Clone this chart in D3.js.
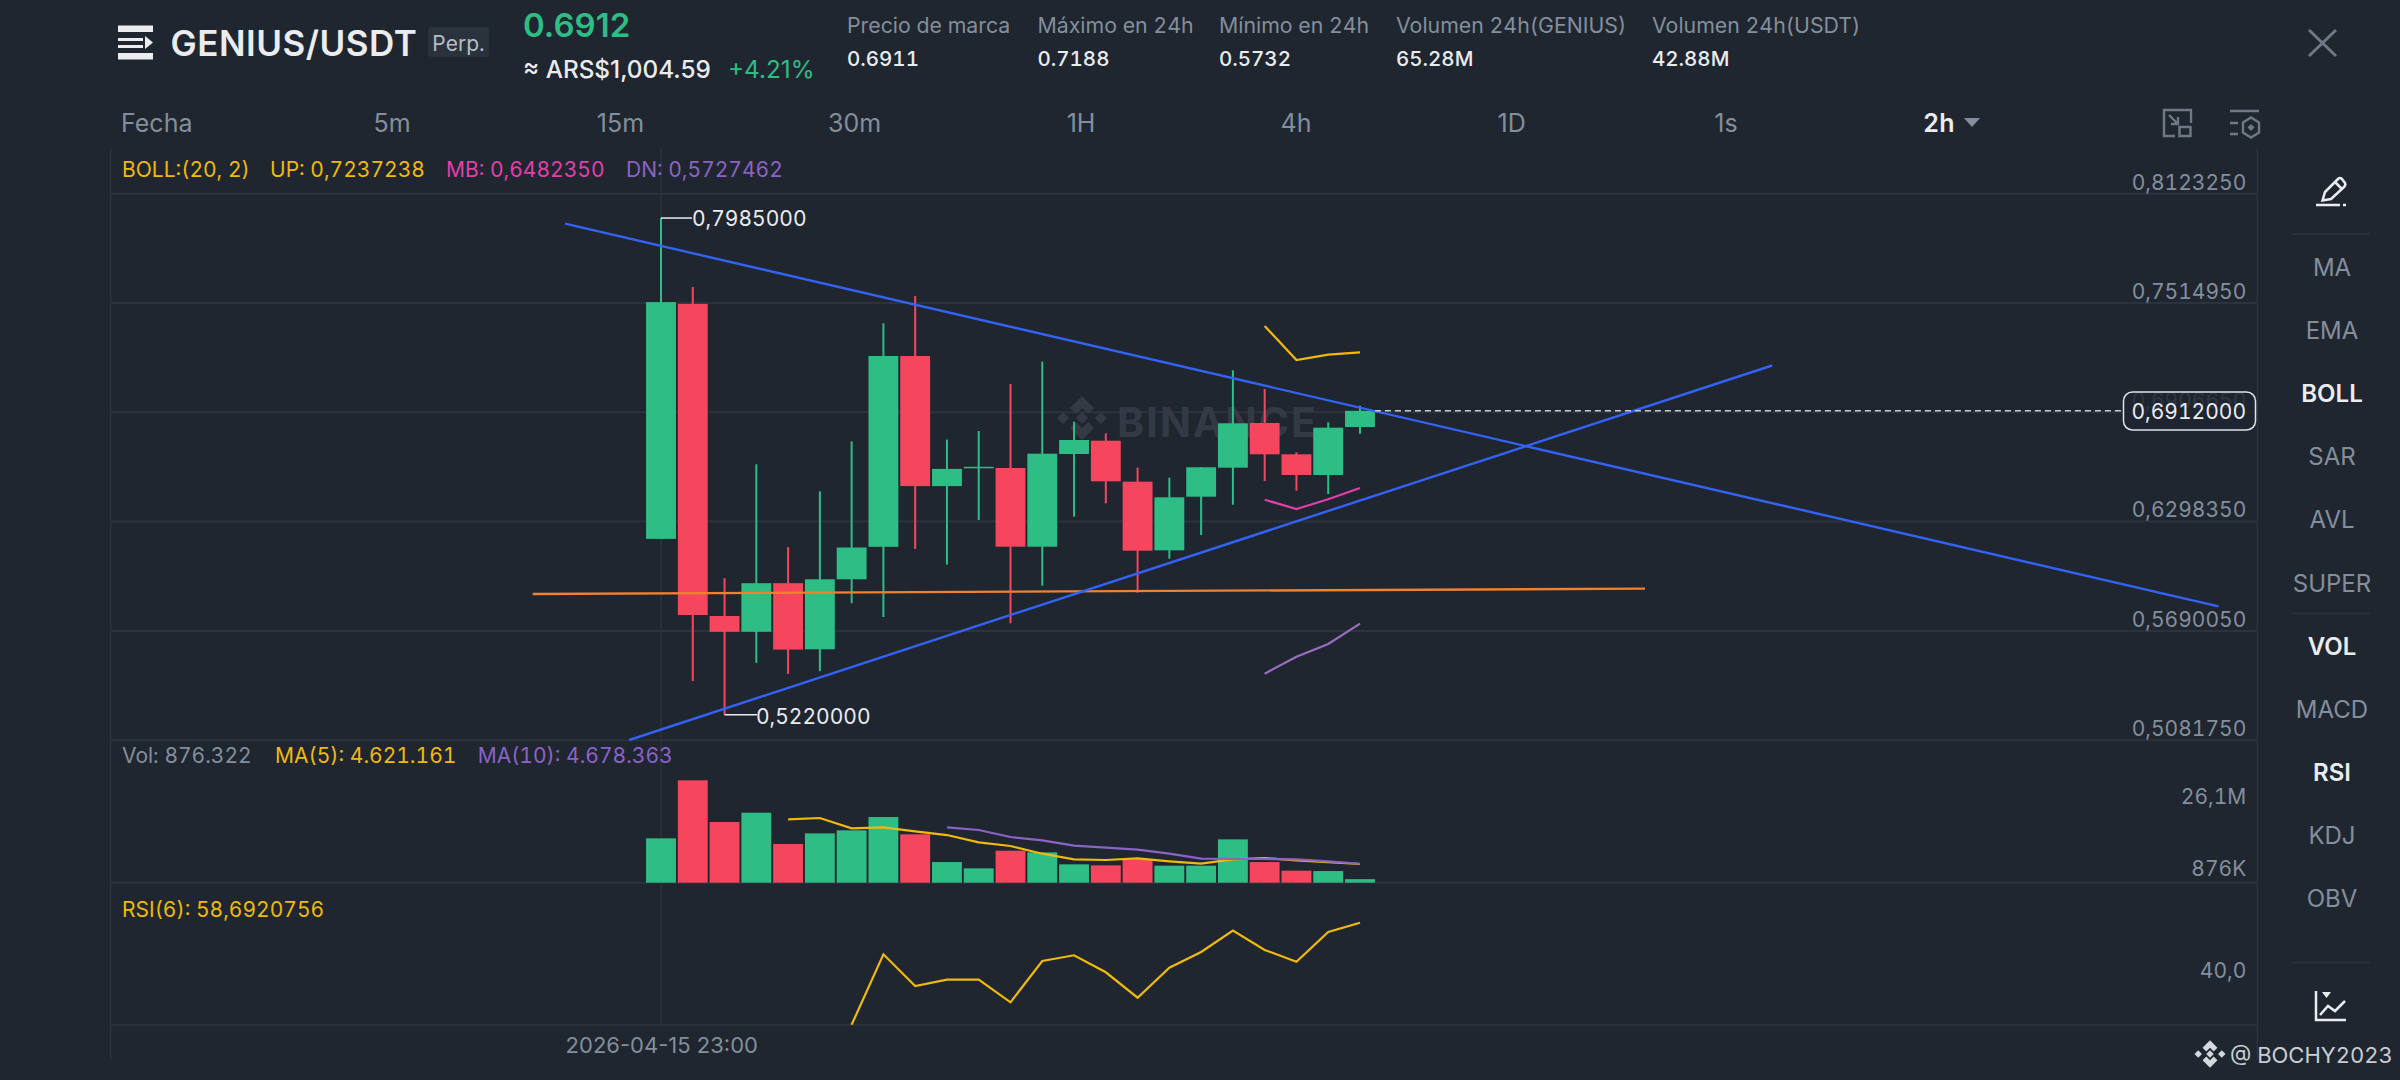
<!DOCTYPE html>
<html>
<head>
<meta charset="utf-8">
<script src="https://cdn.jsdelivr.net/npm/d3@7"></script>
<style>
html, body { margin: 0; padding: 0; background: #1f2630; }
svg { display: block; font-family: Inter, "Noto Sans", sans-serif; font-feature-settings: "tnum"; }
</style>
</head>
<body>
<div id="chart"></div>
<script>
// candles, 2h
var opens = [0.61993,0.75072,0.57702,0.56823,0.59528,0.55849,0.59745,0.61553,0.72172,0.64932,0.65928,0.65939,0.61559,0.66718,0.67458,0.65177,0.61358,0.64342,0.65956,0.68443,0.66701,0.65549,0.68221];
var closes = [0.75172,0.57757,0.56823,0.59528,0.55832,0.59745,0.61514,0.72172,0.64932,0.65889,0.66006,0.61559,0.66735,0.67497,0.65199,0.61336,0.64308,0.65978,0.68427,0.66701,0.65549,0.68182,0.6912];
var highs = [0.7985,0.76007,0.59806,0.66145,0.61537,0.64637,0.67419,0.73997,0.75506,0.67519,0.67998,0.70614,0.71855,0.68516,0.6787,0.65956,0.65399,0.65978,0.71376,0.70335,0.66812,0.68482,0.69406];
var lows = [0.61993,0.54084,0.522,0.55092,0.5448,0.54636,0.58414,0.57641,0.61436,0.60563,0.63045,0.57296,0.59389,0.63229,0.63975,0.59,0.60891,0.6221,0.63896,0.65215,0.64675,0.64491,0.67848];

// boll only for the last four candles
var bollStart = 19;
var bollUp = [0.73842,0.71949,0.72244,0.72372];
var bollMid = [0.64175,0.63657,0.64197,0.64824];
var bollDn = [0.54491,0.55437,0.56144,0.57275];

// volume in millions
var volumes = [10.95,25.28,14.98,17.29,9.55,12.18,12.93,16.22,11.94,5.10,3.54,7.90,7.49,4.53,4.28,5.76,4.20,4.20,10.70,5.10,2.96,2.88,0.876];
var ma5Start = 4;
var ma5 = [15.64,15.97,13.42,13.67,12.68,11.77,9.96,9.06,7.16,5.76,5.60,6.01,5.27,4.69,5.76,6.09,5.52,5.10,4.62];
var ma10Start = 9;
var ma10 = [13.67,13.01,11.28,10.46,9.14,8.64,8.15,7.16,5.93,5.85,5.85,5.76,5.27,4.68];

var rsiStart = 6;
var rsi = [26.6,48.76,38.78,40.77,40.77,33.65,46.65,48.45,43.1,35.1,44.55,49.5,56.2,50.12,46.43,55.78,58.69];

// hand drawn trend lines, [candle index, price]
var trendDown = [[-3.02,0.79535],[49.02,0.58237]];
var trendUp = [[-1.0,0.50801],[34.97,0.71643]];
var trendFlat = [[-4.04,0.58926],[30.97,0.59226]];

var priceTicks = [0.812325,0.751495,0.690665,0.629835,0.569005,0.508175];
var lastPrice = 0.6912;
var volTicks = [26.1,0.876];
var volTickLabels = ['26,1M','876K'];
var rsiTicks = [40];

var tabs = ['Fecha','5m','15m','30m','1H','4h','1D','1s'];
var tabX = [121,392,620.5,854.6,1081,1296,1511.6,1726];
var sideItems = ['MA','EMA','BOLL','SAR','AVL','SUPER','VOL','MACD','RSI','KDJ','OBV'];
var sideActive = ['BOLL','VOL','RSI'];
var stats = [
    ['Precio de marca','0.6911',847],
    ['Máximo en 24h','0.7188',1037.5],
    ['Mínimo en 24h','0.5732',1219],
    ['Volumen 24h(GENIUS)','65.28M',1396],
    ['Volumen 24h(USDT)','42.88M',1652]
];

var W = 2400, H = 1080;
var left = 110.7, right = 2257.3, top0 = 149, bottom = 1059;
var bg = '#1f2630', grid = '#2c333e', muted = '#848e9c', white = '#eaecef';
var green = '#2ebd85', red = '#f6465d', yellow = '#f0b90b', pink = '#e23fa9', purple = '#8b63c4', blue = '#3363f5';
var diamond = 'M0,-22L12,-10L6,-4L0,-10L-6,-4L-12,-10ZM-19,-6L-13,0L-19,6L-25,0ZM19,-6L25,0L19,6L13,0ZM0,-6L6,0L0,6L-6,0ZM-12,10L-6,4L0,10L6,4L12,10L0,22Z';

var svg = d3.select('#chart').append('svg').attr('width',W).attr('height',H);
svg.append('rect').attr('width',W).attr('height',H).attr('fill',bg);

var x = d3.scaleLinear().domain([0,22]).range([661,1360]);
var y = d3.scaleLinear().domain([0.812325,0.508175]).range([193.2,739.7]);
var yVol = d3.scaleLinear().domain([0,26.1]).range([882.7,777]);
var yRsi = d3.scaleLinear().domain([71.3,26.6]).range([882.7,1024.7]);
var bw = (x(1)-x(0))*0.94;

var comma = d3.formatLocale({decimal:',',thousands:'.',grouping:[3],currency:['','']});
var fmtPrice = comma.format('.7f');
var fmtRsi = comma.format('.1f');

function text(g, s, px, py, size, color, weight, anchor) {
    return g.append('text').attr('x',px).attr('y',py).
	attr('font-size',size).attr('fill',color).
	attr('font-weight',weight || 400).
	attr('text-anchor',anchor || 'start').text(s);
}

// frame and panel rules
svg.append('line').attr('x1',left).attr('x2',left).attr('y1',top0).attr('y2',bottom).attr('stroke',grid).attr('stroke-width',1.5);
svg.append('line').attr('x1',right).attr('x2',right).attr('y1',top0).attr('y2',bottom).attr('stroke',grid).attr('stroke-width',1.5);
svg.append('line').attr('x1',x(0)).attr('x2',x(0)).attr('y1',top0).attr('y2',1024.7).attr('stroke',grid).attr('stroke-width',1.5);
[882.7,1024.7].forEach(function(v) {
    svg.append('line').attr('x1',left).attr('x2',right).attr('y1',v).attr('y2',v).attr('stroke',grid).attr('stroke-width',2);
});

// price axis with grid
var axisP = svg.append('g').attr('transform','translate('+right+',0)').
    call(d3.axisLeft(y).tickValues(priceTicks).tickSize(right-left).tickFormat(fmtPrice));
axisP.select('.domain').remove();
axisP.selectAll('line').attr('stroke',grid).attr('stroke-width',2);
axisP.selectAll('text').attr('x',-11).attr('dy','-0.2em').attr('text-anchor','end').
    attr('font-size',21).attr('font-family','Inter').attr('fill',muted);

var axisV = svg.append('g').attr('transform','translate('+right+',0)').
    call(d3.axisLeft(yVol).tickValues(volTicks).tickSize(0).tickFormat(function(d,i) {return volTickLabels[i]}));
axisV.select('.domain').remove();
axisV.selectAll('text').attr('x',-11).attr('dy','0.36em').attr('text-anchor','end').
    attr('font-size',21).attr('font-family','Inter').attr('fill',muted);
axisV.selectAll('.tick').attr('transform',function(d,i) {return 'translate(0,'+[796,868][i]+')'});

var axisR = svg.append('g').attr('transform','translate('+right+',0)').
    call(d3.axisLeft(yRsi).tickValues(rsiTicks).tickSize(0).tickFormat(fmtRsi));
axisR.select('.domain').remove();
axisR.selectAll('text').attr('x',-11).attr('dy','-0.2em').attr('text-anchor','end').
    attr('font-size',21).attr('font-family','Inter').attr('fill',muted);

// watermark
var wm = svg.append('g').attr('fill','#333a45');
wm.append('path').attr('transform','translate(1082,418)').attr('d',diamond);
wm.append('text').attr('x',1117).attr('y',437).attr('font-size',41).attr('font-weight',700).attr('letter-spacing',2).text('BINANCE');

// candles
var idx = d3.range(opens.length);
var colorOf = function(i) {return closes[i] >= opens[i] ? green : red};

svg.append('g').selectAll('line').data(idx).enter().append('line').
    attr('x1',function(i) {return x(i)}).attr('x2',function(i) {return x(i)}).
    attr('y1',function(i) {return y(highs[i])}).attr('y2',function(i) {return y(lows[i])}).
    attr('stroke',colorOf).attr('stroke-width',2);

svg.append('g').selectAll('rect').data(idx).enter().append('rect').
    attr('x',function(i) {return x(i)-bw/2}).attr('width',bw).
    attr('y',function(i) {return y(Math.max(opens[i],closes[i]))}).
    attr('height',function(i) {return Math.max(1.5,Math.abs(y(opens[i])-y(closes[i])))}).
    attr('fill',colorOf);

// volume bars
svg.append('g').selectAll('rect').data(idx).enter().append('rect').
    attr('x',function(i) {return x(i)-bw/2}).attr('width',bw).
    attr('y',function(i) {return yVol(volumes[i])}).
    attr('height',function(i) {return yVol(0)-yVol(volumes[i])}).
    attr('fill',colorOf);

function series(vals, start, sc, color, w) {
    var line = d3.line().x(function(d,i) {return x(start+i)}).y(function(d) {return sc(d)});
    svg.append('path').attr('d',line(vals)).attr('fill','none').attr('stroke',color).attr('stroke-width',w || 2.2);
}
series(bollUp,bollStart,y,yellow);
series(bollMid,bollStart,y,pink);
series(bollDn,bollStart,y,'#9a6cc0');
series(ma5,ma5Start,yVol,yellow);
series(ma10,ma10Start,yVol,purple);
series(rsi,rsiStart,yRsi,yellow);

// trend lines
function trend(pts, color) {
    var line = d3.line().x(function(d) {return x(d[0])}).y(function(d) {return y(d[1])});
    svg.append('path').attr('d',line(pts)).attr('fill','none').attr('stroke',color).attr('stroke-width',2.4);
}
trend(trendFlat,'#f0812f');
trend(trendDown,blue);
trend(trendUp,blue);

// max / min callouts
var hiI = highs.indexOf(d3.max(highs)), loI = lows.indexOf(d3.min(lows));
svg.append('path').attr('d','M'+x(hiI)+','+y(highs[hiI])+'H692').attr('stroke',white).attr('stroke-width',1.5).attr('fill','none');
svg.append('path').attr('d','M'+x(loI)+','+y(lows[loI])+'H757').attr('stroke',white).attr('stroke-width',1.5).attr('fill','none');
text(svg,fmtPrice(highs[hiI]),692,y(highs[hiI])+8,21,white);
text(svg,fmtPrice(lows[loI]),756,y(lows[loI])+9,21,white);

// current price
svg.append('line').attr('x1',x(22)+bw/2).attr('x2',2123).attr('y1',y(lastPrice)).attr('y2',y(lastPrice)).
    attr('stroke','#c9ccd1').attr('stroke-width',1.5).attr('stroke-dasharray','6,4');
svg.append('rect').attr('x',2123.5).attr('y',392).attr('width',132).attr('height',38).attr('rx',9).
    attr('fill',bg).attr('fill-opacity',0.85).attr('stroke','#dfe2e6').attr('stroke-width',1.5);
text(svg,fmtPrice(lastPrice),2246,y(lastPrice)+8,21,white,400,'end');

// header
var head = svg.append('g');
head.append('path').attr('fill',white).
    attr('d','M118,25.5H153V32H118ZM118,38H143V41H118ZM118,45H143V48H118ZM145,36L153,42.5L145,49ZM118,53H153V59.5H118Z');
text(head,'GENIUS/USDT',170.5,55.7,35,white,600).attr('letter-spacing',0.5).style('font-feature-settings','normal');
head.append('rect').attr('x',428).attr('y',27).attr('width',61).attr('height',30).attr('rx',4).attr('fill','#29323d');
text(head,'Perp.',458.5,50.5,21,'#b7bdc6',400,'middle');
text(head,'0.6912',523,37,33,green,600).style('font-feature-settings','normal');
text(head,'≈ ARS$1,004.59',523,78,24.3,white,500).style('font-feature-settings','normal');
text(head,'+4.21%',728,78,24.3,green,400).style('font-feature-settings','normal');
stats.forEach(function(s) {
    text(head,s[0],s[2],33,21.3,muted);
    text(head,s[1],s[2],66,20.5,white,500);
});
head.append('path').attr('d','M2309,30L2336,56M2336,30L2309,56').attr('stroke','#6f7884').attr('stroke-width',3).attr('fill','none');

// tabs
tabs.forEach(function(t,i) {
    text(head,t,tabX[i],132,25,muted,400,i == 0 ? 'start' : 'middle').style('font-feature-settings','normal');
});
text(head,'2h',1923,132,25,white,600);
head.append('path').attr('d','M1964,118H1980L1972,127Z').attr('fill',muted);
head.append('g').attr('fill','none').attr('stroke','#6f7884').attr('stroke-width',2.4).
    selectAll('path').data([
	'M2191,123V110H2164V136H2175M2179.5,127H2190.5V136H2179.5ZM2169,115L2178,124M2178,117V124H2171',
	'M2230,111H2259M2230,123H2238M2230,134H2238M2251,117.5L2259,122.5V132.5L2251,137.5L2243,132.5V122.5Z'
    ]).enter().append('path').attr('d',function(d) {return d});
head.append('path').attr('d','M2251,124L2254.5,127.5L2251,131L2247.5,127.5Z').attr('fill','#6f7884');

// indicator legends
function legend(base, items) {
    items.forEach(function(d) {text(svg,d[0],d[1],base,21,d[2])});
}
legend(177,[['BOLL:(20, 2)',122,yellow],['UP: 0,7237238',270,yellow],['MB: 0,6482350',446,pink],['DN: 0,5727462',626,purple]]);
legend(762.7,[['Vol: 876.322',122,muted],['MA(5): 4.621.161',275,yellow],['MA(10): 4.678.363',477.7,purple]]);
legend(916.7,[['RSI(6): 58,6920756',122,yellow]]);
text(svg,'2026-04-15 23:00',565.6,1052.7,22,muted).style('font-feature-settings','normal');

// right side menu
var sideY = d3.scalePoint().domain(sideItems).range([267,898]);
svg.append('g').selectAll('text').data(sideItems).enter().append('text').
    attr('x',2332).attr('y',function(d) {return sideY(d)+9}).attr('text-anchor','middle').
    attr('font-size',24).
    attr('font-weight',function(d) {return sideActive.indexOf(d) >= 0 ? 600 : 400}).
    attr('fill',function(d) {return sideActive.indexOf(d) >= 0 ? white : muted}).
    text(function(d) {return d});
[234,613.6,962.5].forEach(function(v) {
    svg.append('line').attr('x1',2292).attr('x2',2370).attr('y1',v).attr('y2',v).attr('stroke',grid).attr('stroke-width',1.5);
});
svg.append('path').attr('fill','none').attr('stroke',white).attr('stroke-width',2.5).
    attr('d','M2322.5,200.5L2325,192L2338,179Q2340,177 2342,179L2345,183Q2346,185 2344,187L2331,199ZM2335,182L2342,189');
svg.append('path').attr('fill','none').attr('stroke',white).attr('stroke-width',2.5).attr('d','M2316,205H2340M2343,205H2346');
svg.append('path').attr('fill','none').attr('stroke',white).attr('stroke-width',2.5).
    attr('d','M2316,991V1020H2346M2320,1015L2328,1006L2335,1011L2345,1001');
svg.append('path').attr('fill',white).attr('d','M2322,992H2331L2326.5,998Z');

// footer tag
svg.append('path').attr('fill','#d5d8dc').attr('transform','translate(2210,1054) scale(0.62)').attr('d',diamond);
text(svg,'@ BOCHY2023',2230,1062.5,22,'#c9cdd3',400);
</script>
</body>
</html>
